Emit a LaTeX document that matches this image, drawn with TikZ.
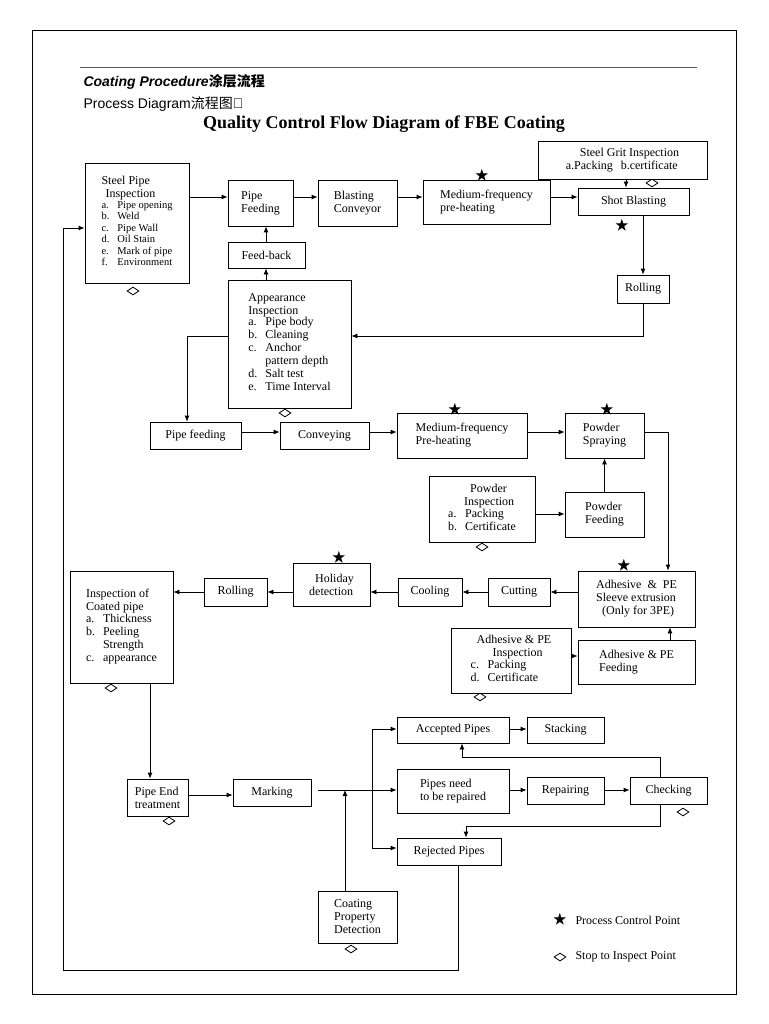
\documentclass[tikz,border=0pt]{standalone}
\usepackage{amssymb}
\usepackage{fontspec}
\setmainfont{Liberation Serif}
\newfontfamily\hsans{Liberation Sans}
\newfontfamily\cjk{Noto Sans CJK SC}
\usetikzlibrary{shapes.geometric,arrows.meta}
\newcommand{\lstf}{\fontsize{10.5}{11.5}\selectfont}
\tikzset{
  box/.style={draw, thick, inner sep=2pt, font=\fontsize{12}{13}\selectfont},
  flow/.style={thick, -{Latex[length=6pt,width=5pt]}},
  line/.style={thick},
  star/.style={inner sep=0, font=\Large},
  insp/.style={diamond, draw, thick, inner sep=0, minimum width=12pt, minimum height=8pt}
}
% box from left, top, right, bottom (pixels)
\newcommand{\bx}[6]{\node[box, minimum width={(#4-#2)*1pt}, minimum height={(#5-#3)*1pt}, align=left]
  (#1) at ({(#2+#4)/2},{(#3+#5)/2}) {#6};}
\begin{document}
\begin{tikzpicture}[x=1pt,y=-1pt]
\useasboundingbox (0,0) rectangle (768,1024);
\draw[thick] (32,30) rectangle (736,994);
\draw[line width=1pt, gray!70!black] (80,68) -- (697,68);
\node[anchor=west, font=\hsans\bfseries\itshape\fontsize{14}{16}\selectfont] (hd1) at (80,82) {Coating Procedure{\cjk 涂层流程}};
\node[anchor=west, font=\hsans\fontsize{14}{16}\selectfont] (hd2) at (80,104) {Process Diagram{\cjk 流程图}：};
\node[font=\bfseries\fontsize{18}{20}\selectfont] (title) at (384,124) {Quality Control Flow Diagram of FBE Coating};

% row 1
\bx{sp}{85}{163}{189}{283}{Steel Pipe\\\hspace{4pt}Inspection\\[-1pt]
 {\lstf\begin{tabular}{@{}l@{\hspace{8pt}}l@{}}a.&Pipe opening\\b.&Weld\\c.&Pipe Wall\\d.&Oil Stain\\e.&Mark of pipe\\f.&Environment\end{tabular}}}
\bx{pf}{228}{180}{293}{226}{Pipe\\Feeding}
\bx{bc}{318}{180}{397}{226}{Blasting\\Conveyor}
\bx{mf}{423}{180}{550}{224}{Medium-frequency\\pre-heating}
\bx{sg}{538}{141}{707}{179}{\hspace{14pt}Steel Grit Inspection\\a.Packing\hspace{8pt}b.certificate}
\bx{sb}{578}{188}{689}{215}{Shot Blasting}
\bx{ro}{617}{275}{669}{303}{Rolling}
\bx{fb}{228}{242}{305}{268}{Feed-back}
\bx{ai}{228}{280}{351}{408}{Appearance\\Inspection\\[-1pt]
 \begin{tabular}{@{}l@{\hspace{8pt}}l@{}}a.&Pipe body\\b.&Cleaning\\c.&Anchor\\&pattern depth\\d.&Salt test\\e.&Time Interval\end{tabular}}

% row 2
\bx{pf2}{150}{422}{241}{449}{Pipe feeding}
\bx{cv}{280}{422}{369}{449}{Conveying}
\bx{mf2}{397}{413}{527}{458}{Medium-frequency\\Pre-heating}
\bx{ps}{565}{413}{644}{458}{Powder\\Spraying}
\bx{pi}{429}{476}{535}{542}{\hspace{22pt}Powder\\\hspace{16pt}Inspection\\[-1pt]
 \begin{tabular}{@{}l@{\hspace{8pt}}l@{}}a.&Packing\\b.&Certificate\end{tabular}}
\bx{pfd}{565}{492}{644}{537}{Powder\\Feeding}

% row 3
\bx{ae}{578}{571}{695}{627}{Adhesive\hspace{6pt}\&\hspace{6pt}PE\\Sleeve extrusion\\\hspace{6pt}(Only for 3PE)}
\bx{aei}{451}{628}{571}{693}{\hspace{6pt}Adhesive \& PE\\\hspace{22pt}Inspection\\[-1pt]
 \begin{tabular}{@{}l@{\hspace{8pt}}l@{}}c.&Packing\\d.&Certificate\end{tabular}}
\bx{aef}{578}{640}{695}{684}{Adhesive \& PE\\Feeding}
\bx{ct}{488}{578}{550}{606}{Cutting}
\bx{co}{398}{578}{462}{606}{Cooling}
\bx{hd}{293}{563}{370}{606}{\hspace{6pt}Holiday\\detection}
\bx{ro2}{204}{578}{267}{606}{Rolling}
\bx{ic}{70}{571}{173}{683}{Inspection of\\Coated pipe\\[-1pt]
 \begin{tabular}{@{}l@{\hspace{8pt}}l@{}}a.&Thickness\\b.&Peeling\\&Strength\\c.&appearance\end{tabular}}

% row 4
\bx{pe}{127}{779}{188}{816}{Pipe End\\treatment}
\bx{mk}{233}{779}{311}{806}{Marking}
\bx{ap}{397}{717}{509}{743}{Accepted Pipes}
\bx{st}{527}{717}{604}{743}{Stacking}
\bx{pr}{397}{769}{509}{813}{Pipes need\\to be repaired}
\bx{rp}{527}{777}{604}{804}{Repairing}
\bx{ck}{630}{777}{707}{804}{Checking}
\bx{rj}{397}{838}{501}{865}{Rejected Pipes}
\bx{cp}{318}{891}{397}{943}{Coating\\Property\\Detection}

% control points
\node[star] (s1) at (482,176) {$\bigstar$};
\node[star] (s2) at (622,226) {$\bigstar$};
\node[star] (s3) at (455,410) {$\bigstar$};
\node[star] (s4) at (607,410) {$\bigstar$};
\node[star] (s5) at (624,566) {$\bigstar$};
\node[star] (s6) at (339,558) {$\bigstar$};
% inspect points
\node[insp] (d1) at (133,291) {};
\node[insp] (d2) at (652,183) {};
\node[insp] (d3) at (285,413) {};
\node[insp] (d4) at (482,547) {};
\node[insp] (d5) at (480,697) {};
\node[insp] (d6) at (111,688) {};
\node[insp] (d7) at (169,821) {};
\node[insp] (d8) at (683,812) {};
\node[insp] (d9) at (351,949) {};
% legend
\node[star] (ls) at (560,920) {$\bigstar$};
\node[anchor=west, font=\fontsize{12}{13}\selectfont] (lt1) at (572,920) {Process Control Point};
\node[insp] (ld) at (560,957) {};
\node[anchor=west, font=\fontsize{12}{13}\selectfont] (lt2) at (572,957) {Stop to Inspect Point};

% coordinates
\coordinate (m1) at (372,790);
\coordinate (m0) at (318,790);
\coordinate (lp) at (63,228);

% connectors row 1
\draw[flow] (sp.east |- 0,197) -- (pf.west |- 0,197);
\draw[flow] (pf.east |- 0,197) -- (bc.west |- 0,197);
\draw[flow] (bc.east |- 0,197) -- (mf.west |- 0,197);
\draw[flow] (mf.east |- 0,197) -- (sb.west |- 0,197);
\draw[flow] (sg.south -| 626,0) -- (sb.north -| 626,0);
\draw[flow] (sb.south -| 643,0) -- (ro.north -| 643,0);
\draw[flow] (ro.south) |- (ai.east |- 0,336);
\draw[flow] (ai.north -| 266,0) -- (fb.south -| 266,0);
\draw[flow] (fb.north -| 266,0) -- (pf.south -| 266,0);
\draw[flow] (ai.west |- 0,336) -| (pf2.north -| 187,0);
% row 2
\draw[flow] (pf2.east |- 0,432) -- (cv.west |- 0,432);
\draw[flow] (cv.east |- 0,432) -- (mf2.west |- 0,432);
\draw[flow] (mf2.east |- 0,432) -- (ps.west |- 0,432);
\draw[flow] (pi.east |- 0,514) -- (pfd.west |- 0,514);
\draw[flow] (pfd.north) -- (ps.south);
\draw[flow] (ps.east |- 0,432) -| (ae.north -| 668,0);
% row 3
\draw[flow] (aei.east |- 0,656) -- (aef.west |- 0,656);
\draw[flow] (aef.north -| 670,0) -- (ae.south -| 670,0);
\draw[flow] (ae.west |- 0,592) -- (ct.east |- 0,592);
\draw[flow] (ct.west |- 0,592) -- (co.east |- 0,592);
\draw[flow] (co.west |- 0,592) -- (hd.east |- 0,592);
\draw[flow] (hd.west |- 0,592) -- (ro2.east |- 0,592);
\draw[flow] (ro2.west |- 0,592) -- (ic.east |- 0,592);
\draw[flow] (ic.south -| 150,0) -- (pe.north -| 150,0);
% row 4
\draw[flow] (pe.east |- 0,795) -- (mk.west |- 0,795);
\draw[flow] (m0) -- (pr.west |- m0);
\draw[flow] (m1) |- (ap.west |- 0,729);
\draw[flow] (m1) |- (rj.west |- 0,848);
\draw[flow] (cp.north -| 345,0) -- (345,790);
\draw[flow] (ap.east |- 0,729) -- (st.west |- 0,729);
\draw[flow] (pr.east |- 0,790) -- (rp.west |- 0,790);
\draw[flow] (rp.east |- 0,790) -- (ck.west |- 0,790);
\draw[flow] (ck.north -| 660,0) |- (462,757) -- (ap.south -| 462,0);
\draw[flow] (ck.south -| 660,0) |- (466,826) -- (rj.north -| 466,0);
\draw[line] (rj.south -| 458,0) -- (458,970) -| (lp);
\draw[flow] (lp) -- (sp.west |- lp);
\end{tikzpicture}
\end{document}
